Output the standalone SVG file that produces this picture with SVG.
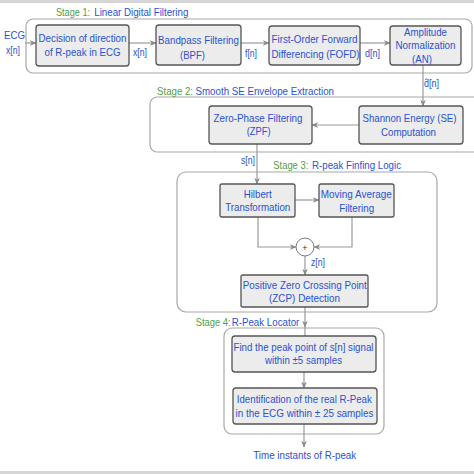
<svg xmlns="http://www.w3.org/2000/svg" width="474" height="474" viewBox="0 0 474 474">
<style>
.bg{fill:#ffffff}
.band{fill:#d6d6d6}
.stage{fill:#ffffff;stroke:#a8a8a8;stroke-width:1.2}
.node{fill:#ececec;stroke:#555555;stroke-width:1.3}
.t{font-family:"Liberation Sans",Arial,sans-serif;font-size:11.5px;fill:#2a52d2;text-anchor:middle}
.l{font-family:"Liberation Sans",Arial,sans-serif;font-size:11.5px;fill:#2a52d2}
.g{fill:#4ea04e}
.c{fill:none;stroke:#9a9a9a;stroke-width:1.2}
</style>
<defs>
<marker id="ah" viewBox="0 0 10 10" refX="9" refY="5" markerWidth="7" markerHeight="7" orient="auto" markerUnits="userSpaceOnUse">
<path d="M0,1 L10,5 L0,9 L3,5 Z" fill="#8a8a8a"/>
</marker>
</defs>
<rect class="bg" x="0" y="0" width="474" height="474"/>
<rect class="band" x="0" y="0" width="474" height="3"/>
<rect class="band" x="0" y="471" width="474" height="3"/>

<g id="stages">
<rect class="stage" x="26" y="19" width="446" height="54" rx="7"/>
<rect class="stage" x="150" y="97" width="334" height="55" rx="7"/>
<rect class="stage" x="177" y="172" width="260" height="140" rx="9"/>
<rect class="stage" x="224" y="328" width="160" height="106" rx="8"/>
<text class="l g" x="56" y="16" textLength="34" lengthAdjust="spacingAndGlyphs">Stage 1:</text>
<text class="l" x="94.3" y="16" textLength="94" lengthAdjust="spacingAndGlyphs">Linear Digital Filtering</text>
<text class="l g" x="157" y="95" textLength="36" lengthAdjust="spacingAndGlyphs">Stage 2:</text>
<text class="l" x="195.5" y="95" textLength="138.5" lengthAdjust="spacingAndGlyphs">Smooth SE Envelope Extraction</text>
<text class="l g" x="273.3" y="169" textLength="35" lengthAdjust="spacingAndGlyphs">Stage 3:</text>
<text class="l" x="312" y="169" textLength="89" lengthAdjust="spacingAndGlyphs">R-peak Finfing Logic</text>
<text class="l g" x="195.7" y="326" textLength="35" lengthAdjust="spacingAndGlyphs">Stage 4:</text>
<text class="l" x="231.7" y="326" textLength="67.6" lengthAdjust="spacingAndGlyphs">R-Peak Locator</text>
</g>

<g id="connectors">
<line class="c" x1="25" y1="43" x2="36" y2="43" marker-end="url(#ah)"/>
<line class="c" x1="129" y1="43" x2="156" y2="43" marker-end="url(#ah)"/>
<line class="c" x1="241" y1="43" x2="269" y2="43" marker-end="url(#ah)"/>
<line class="c" x1="360" y1="43" x2="390" y2="43" marker-end="url(#ah)"/>
<line class="c" x1="423" y1="65" x2="423" y2="106" marker-end="url(#ah)"/>
<line class="c" x1="359" y1="125" x2="312" y2="125" marker-end="url(#ah)"/>
<line class="c" x1="257" y1="144" x2="257" y2="184" marker-end="url(#ah)"/>
<line class="c" x1="295" y1="200" x2="319" y2="200" marker-end="url(#ah)"/>
<polyline class="c" points="258,217 258,247 296,247" marker-end="url(#ah)"/>
<polyline class="c" points="352,217 352,247 314,247" marker-end="url(#ah)"/>
<line class="c" x1="305" y1="256" x2="305" y2="275" marker-end="url(#ah)"/>
<line class="c" x1="305" y1="307" x2="305" y2="327" marker-end="url(#ah)"/>
<line class="c" x1="305" y1="327" x2="305" y2="336"/>
<line class="c" x1="304" y1="372" x2="304" y2="388" marker-end="url(#ah)"/>
<line class="c" x1="304" y1="424" x2="304" y2="447" marker-end="url(#ah)"/>
<text class="l" x="4" y="39" textLength="21" lengthAdjust="spacingAndGlyphs">ECG</text>
<text class="l" x="6" y="54" textLength="14" lengthAdjust="spacingAndGlyphs">x[n]</text>
<text class="l" x="133" y="56" textLength="14" lengthAdjust="spacingAndGlyphs">x[n]</text>
<text class="l" x="245" y="57" textLength="12" lengthAdjust="spacingAndGlyphs">f[n]</text>
<text class="l" x="365" y="57" textLength="15" lengthAdjust="spacingAndGlyphs">d[n]</text>
<text class="l" x="424" y="87" textLength="15" lengthAdjust="spacingAndGlyphs">d̂[n]</text>
<text class="l" x="241" y="164" textLength="14" lengthAdjust="spacingAndGlyphs">s[n]</text>
<text class="l" x="311" y="266" textLength="14" lengthAdjust="spacingAndGlyphs">z[n]</text>
</g>

<g id="decision">
<rect class="node" x="36" y="25" width="93" height="41" rx="3"/>
<text class="t" x="82.5" y="42" textLength="88" lengthAdjust="spacingAndGlyphs">Decision of direction</text>
<text class="t" x="82.5" y="56" textLength="76" lengthAdjust="spacingAndGlyphs">of R-peak in ECG</text>
</g>
<g id="bpf">
<rect class="node" x="156" y="25" width="85" height="40" rx="3"/>
<text class="t" x="198.5" y="44" textLength="81" lengthAdjust="spacingAndGlyphs">Bandpass Filtering</text>
<text class="t" x="192.5" y="59" textLength="25" lengthAdjust="spacingAndGlyphs">(BPF)</text>
</g>
<g id="fofd">
<rect class="node" x="269" y="26" width="91" height="39" rx="3"/>
<text class="t" x="314.5" y="43" textLength="86" lengthAdjust="spacingAndGlyphs">First-Order Forward</text>
<text class="t" x="315.5" y="58" textLength="88" lengthAdjust="spacingAndGlyphs">Differencing (FOFD)</text>
</g>
<g id="an">
<rect class="node" x="390" y="26" width="71" height="39" rx="3"/>
<text class="t" x="425.5" y="36" textLength="43" lengthAdjust="spacingAndGlyphs">Amplitude</text>
<text class="t" x="425.5" y="49" textLength="60" lengthAdjust="spacingAndGlyphs">Normalization</text>
<text class="t" x="422" y="63" textLength="20" lengthAdjust="spacingAndGlyphs">(AN)</text>
</g>
<g id="zpf">
<rect class="node" x="209" y="106" width="103" height="38" rx="3"/>
<text class="t" x="258" y="122" textLength="89" lengthAdjust="spacingAndGlyphs">Zero-Phase Filtering</text>
<text class="t" x="258.7" y="135" textLength="24" lengthAdjust="spacingAndGlyphs">(ZPF)</text>
</g>
<g id="se">
<rect class="node" x="359" y="106" width="104" height="38" rx="3"/>
<text class="t" x="409.5" y="122" textLength="94" lengthAdjust="spacingAndGlyphs">Shannon Energy (SE)</text>
<text class="t" x="408.5" y="136" textLength="55" lengthAdjust="spacingAndGlyphs">Computation</text>
</g>
<g id="hilbert">
<rect class="node" x="220" y="184" width="75" height="33" rx="2"/>
<text class="t" x="257.7" y="198" textLength="28" lengthAdjust="spacingAndGlyphs">Hilbert</text>
<text class="t" x="257.7" y="211" textLength="65" lengthAdjust="spacingAndGlyphs">Transformation</text>
</g>
<g id="maf">
<rect class="node" x="319" y="184" width="75" height="33" rx="2"/>
<text class="t" x="356.3" y="198" textLength="71" lengthAdjust="spacingAndGlyphs">Moving Average</text>
<text class="t" x="356.7" y="212" textLength="35" lengthAdjust="spacingAndGlyphs">Filtering</text>
</g>
<g id="sum">
<circle cx="305" cy="247" r="9" fill="#ffffff" stroke="#777777" stroke-width="1"/>
<text class="t" x="305" y="250.5" style="font-size:9px;fill:#333333">+</text>
</g>
<g id="zcp">
<rect class="node" x="241" y="275" width="127" height="32" rx="2"/>
<text class="t" x="304.8" y="289" textLength="124" lengthAdjust="spacingAndGlyphs">Positive Zero Crossing Point</text>
<text class="t" x="304.5" y="302" textLength="71" lengthAdjust="spacingAndGlyphs">(ZCP) Detection</text>
</g>
<g id="find">
<rect class="node" x="232" y="336" width="144" height="36" rx="3"/>
<text class="t" x="303.5" y="351" textLength="140" lengthAdjust="spacingAndGlyphs">Find the peak point of s[n] signal</text>
<text class="t" x="303.5" y="364" textLength="77" lengthAdjust="spacingAndGlyphs">within ±5 samples</text>
</g>
<g id="ident">
<rect class="node" x="233" y="388" width="144" height="36" rx="3"/>
<text class="t" x="304.3" y="403" textLength="135" lengthAdjust="spacingAndGlyphs">Identification of the real R-Peak</text>
<text class="t" x="304.5" y="417" textLength="138" lengthAdjust="spacingAndGlyphs">in the ECG within  ± 25 samples</text>
</g>
<g id="output">
<text class="t" x="304.7" y="459" textLength="103" lengthAdjust="spacingAndGlyphs">Time instants of R-peak</text>
</g>
</svg>
